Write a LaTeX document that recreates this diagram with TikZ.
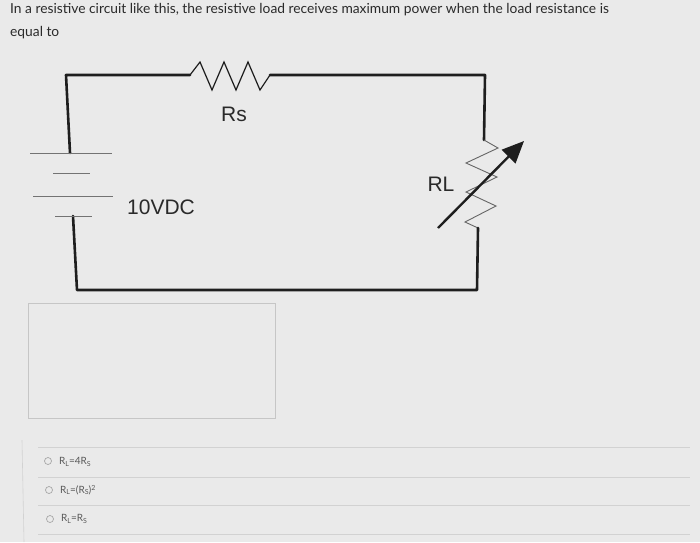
\documentclass[tikz,border=0pt]{standalone}
\usepackage{fontspec}
\setmainfont{Lato}
\newfontfamily\arialf{Liberation Sans}
\usetikzlibrary{arrows.meta}
\definecolor{bg}{HTML}{EAEAEA}
\definecolor{wire}{HTML}{1E1E1E}
\definecolor{txt}{HTML}{2A2A2A}
\newcommand{\sbx}[1]{\raisebox{-0.3ex}{\fontsize{7}{7}\selectfont #1}}
\newcommand{\spx}[1]{\raisebox{0.6ex}{\fontsize{7}{7}\selectfont #1}}
\begin{document}
\begin{tikzpicture}[x=1pt,y=-1pt,
  wireS/.style={line width=2.6pt,color=wire,line cap=round,line join=round},
  thin/.style={line width=0.8pt,color=gray!90!black},
  lab/.style={font=\arialf\fontsize{21}{21}\selectfont,text=txt,inner sep=0pt},
  opt/.style={font=\fontsize{10}{10}\selectfont,text=gray!70!black,anchor=west,inner sep=0pt},
  rad/.style={circle,draw=gray!70,line width=0.7pt,minimum size=7pt,inner sep=0pt}]
\fill[bg] (0,0) rectangle (700,542);
\useasboundingbox (0,0) rectangle (700,542);
\node[anchor=west,inner sep=0pt,font=\fontsize{13.8}{13.8}\selectfont,text=txt] (q1) at (10,10) {In a resistive circuit like this, the resistive load receives maximum power when the load resistance is};
\node[anchor=west,inner sep=0pt,font=\fontsize{13.8}{13.8}\selectfont,text=txt] (q2) at (10,33) {equal to};
% circuit
\draw[wireS] (70,153) -- (66,75) -- (190,75);
\draw[line width=1.2pt,color=wire,line join=miter] (190,75) -- (200,62) -- (212,90) -- (224,62) -- (236,90) -- (248,62) -- (260,90) -- (270,75);
\draw[wireS] (270,75) -- (485,75) -- (484,140);
\draw[line width=0.9pt,color=gray!80!black] (484,140) -- (498,148) -- (466,163) -- (497,177) -- (466,192) -- (496,206) -- (465,222) -- (478,228);
\draw[wireS] (478,228) -- (477,290) -- (77,290) -- (73,216);
\draw[thin] (30,153) -- (112,153);
\draw[thin] (53,173) -- (90,173);
\draw[thin] (33,196) -- (113,196);
\draw[thin] (55,216) -- (92,216);
\draw[line width=2.4pt,color=wire,-{Triangle[length=22pt,width=19pt]}] (438,228) -- (524,141);
\node[lab] (rs) at (234,114) {Rs};
\node[lab] (vdc) at (161,207) {10VDC};
\node[lab] (rl) at (441,184) {RL};
% answer box
\draw[line width=0.7pt,color=gray!45] (28,303) rectangle (275,418);
\foreach \y in {447,477,505,534} \draw[line width=0.6pt,color=gray!35] (38,\y) -- (690,\y);
\draw[line width=0.6pt,color=gray!35] (22,440) -- (24,542);
\node[rad] (c1) at (48,461) {};
\node[rad] (c2) at (49,490) {};
\node[rad] (c3) at (50,519) {};
\node[opt] (o1) at (59,462) {R\sbx{L}=4R\sbx{S}};
\node[opt] (o2) at (60,490) {R\sbx{L}=(R\sbx{S})\spx{2}};
\node[opt] (o3) at (61,519) {R\sbx{L}=R\sbx{S}};
\end{tikzpicture}
\end{document}
